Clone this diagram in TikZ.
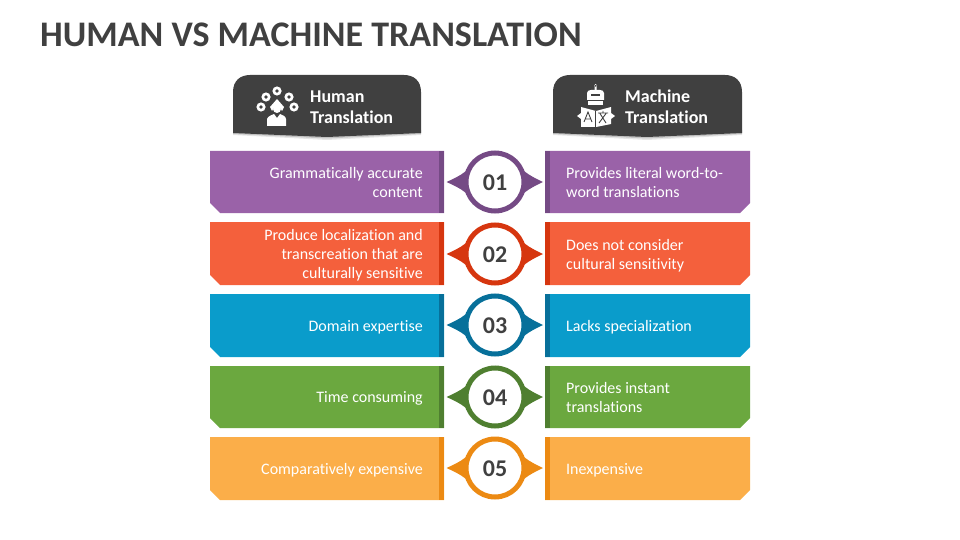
\documentclass[tikz,border=0pt]{standalone}
\usepackage{fontspec}
\setmainfont{Carlito}[Ligatures=NoCommon]
\definecolor{barpurple}{HTML}{9A62A8}
\definecolor{rimpurple}{HTML}{754A85}
\definecolor{barred}{HTML}{F4603C}
\definecolor{rimred}{HTML}{D6360F}
\definecolor{barblue}{HTML}{0A9CCB}
\definecolor{rimblue}{HTML}{07709A}
\definecolor{bargreen}{HTML}{6BA83F}
\definecolor{rimgreen}{HTML}{4F7F30}
\definecolor{baramber}{HTML}{FBAE49}
\definecolor{rimamber}{HTML}{EC8A13}
\definecolor{headdark}{HTML}{404040}
\tikzset{
  lefttext/.style={text=white,font=\fontsize{16}{19}\selectfont,align=right,anchor=east,inner sep=0pt},
  righttext/.style={text=white,font=\fontsize{16}{19}\selectfont,align=left,anchor=west,inner sep=0pt},
  headtext/.style={text=white,font=\bfseries\fontsize{18}{21}\selectfont,align=left,anchor=west,inner sep=0pt},
  numring/.style={circle,draw=#1,fill=white,line width=5pt,minimum size=58pt,inner sep=0pt,
    text=headdark,font=\bfseries\fontsize{24}{28}\selectfont,text height=17pt},
  glyph/.style={headdark,line width=0.9pt}
}
\begin{document}
\begin{tikzpicture}[x=1pt,y=-1pt]
\useasboundingbox (0,0) rectangle (960,540);
\node[anchor=west,inner sep=0pt,text=headdark,font=\bfseries\fontsize{36}{42}\selectfont] (title) at (40,35) {HUMAN VS MACHINE TRANSLATION};
% headers
\fill[gray,opacity=.2] (233,135)--(327,140)--(421,135)--(421,130)--(233,130)--cycle;
\fill[gray,opacity=.35] (233,134)--(327,138.5)--(421,134)--(421,130)--(233,130)--cycle;
\fill[gray,opacity=.2] (553,135)--(647,140)--(742,135)--(742,130)--(553,130)--cycle;
\fill[gray,opacity=.35] (553,134)--(647,138.5)--(742,134)--(742,130)--(553,130)--cycle;
\fill[headdark] (233,133)--(233,92) .. controls (233,81) and (240,75) .. (250,75)--(404,75) .. controls (414,75) and (421,81) .. (421,92)--(421,133)--(327,137)--cycle;
\fill[headdark] (553,133)--(553,92) .. controls (553,81) and (560,75) .. (570,75)--(725,75) .. controls (735,75) and (742,81) .. (742,92)--(742,133)--(647,137)--cycle;
\node[headtext] (human) at (310,107) {Human\\Translation};
\node[headtext] (machine) at (625,107) {Machine\\Translation};
% human icon
\fill[white] (267,126)--(267,119) .. controls (268,116) and (272,115) .. (274,114)--(277,118)--(280,114) .. controls (282,115) and (286,116) .. (286,119)--(286,126)--cycle;
\fill[white] (270,107)--(277,99)--(284,107)--(282,111) .. controls (281,105) and (273,105) .. (272,111)--cycle;
\fill[white] (277,109) circle (4);
\fill[white] (261,107) circle (4.6) (266,97) circle (4.6) (277,91) circle (4.6) (289,97) circle (4.6) (294,107) circle (4.6);
\fill[headdark] (261,107) circle (1.8) (266,97) circle (1.8) (277,91) circle (1.8) (289,97) circle (1.8) (294,107) circle (1.8);
% machine icon
\fill[white] (594.5,85) rectangle (596.5,90) (595.5,85.5) circle (1.5);
\fill[white] (587,96)--(587,93) .. controls (587,91) and (589,90) .. (591,90)--(600,90) .. controls (602,90) and (604,91) .. (604,93)--(604,96)--(604,100)--(587,100)--cycle;
\fill[headdark] (591,94) rectangle (600,96);
\fill[white] (588,101) rectangle (603,105);
\fill[white] (581,107)--(596,111)--(611,107)--(611,113)--(615,116)--(611,119)--(611,124)--(596,127)--(581,127)--(581,119)--(577,116)--(581,113)--cycle;
\draw[headdark,line width=.8pt] (595.5,111)--(595.5,127);
\draw[glyph] (584,122)--(588,112)--(592,122) (585.5,119)--(590.5,119);
\draw[glyph] (598,113)--(608,113) (603,111)--(603,113) (600,113.5)--(606,123) (606,113.5)--(599,123);
% row 1
\fill[barpurple] (210,151)--(444,151)--(444,213)--(220,213)--(210,203)--cycle;
\fill[rimpurple] (439,151) rectangle (444,213);
\fill[barpurple] (545,151)--(750,151)--(750,203)--(740,213)--(545,213)--cycle;
\fill[rimpurple] (545,151) rectangle (550,213);
\fill[rimpurple] (446.5,182) .. controls (453,179) and (460,176) .. (466,171)--(524,171) .. controls (530,176) and (537,179) .. (543,182) .. controls (537,185) and (530,188) .. (524,193)--(466,193) .. controls (460,188) and (453,185) .. (446.5,182)--cycle;
\node[numring=rimpurple] (num1) at (495,182) {01};
\node[lefttext] (hum1) at (423,182.5) {Grammatically accurate\\content};
\node[righttext] (mac1) at (566,182.5) {Provides literal word-to-\\word translations};
% row 2
\fill[barred] (210,222)--(444,222)--(444,285)--(220,285)--(210,275)--cycle;
\fill[rimred] (439,222) rectangle (444,285);
\fill[barred] (545,222)--(750,222)--(750,275)--(740,285)--(545,285)--cycle;
\fill[rimred] (545,222) rectangle (550,285);
\fill[rimred] (446.5,254) .. controls (453,251) and (460,248) .. (466,243)--(524,243) .. controls (530,248) and (537,251) .. (543,254) .. controls (537,257) and (530,260) .. (524,265)--(466,265) .. controls (460,260) and (453,257) .. (446.5,254)--cycle;
\node[numring=rimred] (num2) at (495,254) {02};
\node[lefttext] (hum2) at (423,255.5) {Produce localization and\\transcreation that are\\culturally sensitive};
\node[righttext] (mac2) at (566,255.5) {Does not consider\\cultural sensitivity};
% row 3
\fill[barblue] (210,294)--(444,294)--(444,357)--(220,357)--(210,347)--cycle;
\fill[rimblue] (439,294) rectangle (444,357);
\fill[barblue] (545,294)--(750,294)--(750,347)--(740,357)--(545,357)--cycle;
\fill[rimblue] (545,294) rectangle (550,357);
\fill[rimblue] (446.5,325) .. controls (453,322) and (460,319) .. (466,314)--(524,314) .. controls (530,319) and (537,322) .. (543,325) .. controls (537,328) and (530,331) .. (524,336)--(466,336) .. controls (460,331) and (453,328) .. (446.5,325)--cycle;
\node[numring=rimblue] (num3) at (495,325) {03};
\node[lefttext] (hum3) at (423,327) {Domain expertise};
\node[righttext] (mac3) at (566,327) {Lacks specialization};
% row 4
\fill[bargreen] (210,366)--(444,366)--(444,428)--(220,428)--(210,418)--cycle;
\fill[rimgreen] (439,366) rectangle (444,428);
\fill[bargreen] (545,366)--(750,366)--(750,418)--(740,428)--(545,428)--cycle;
\fill[rimgreen] (545,366) rectangle (550,428);
\fill[rimgreen] (446.5,397) .. controls (453,394) and (460,391) .. (466,386)--(524,386) .. controls (530,391) and (537,394) .. (543,397) .. controls (537,400) and (530,403) .. (524,408)--(466,408) .. controls (460,403) and (453,400) .. (446.5,397)--cycle;
\node[numring=rimgreen] (num4) at (495,397) {04};
\node[lefttext] (hum4) at (423,398.5) {Time consuming};
\node[righttext] (mac4) at (566,397.5) {Provides instant\\translations};
% row 5
\fill[baramber] (210,437)--(444,437)--(444,500)--(220,500)--(210,490)--cycle;
\fill[rimamber] (439,437) rectangle (444,500);
\fill[baramber] (545,437)--(750,437)--(750,490)--(740,500)--(545,500)--cycle;
\fill[rimamber] (545,437) rectangle (550,500);
\fill[rimamber] (446.5,468) .. controls (453,465) and (460,462) .. (466,457)--(524,457) .. controls (530,462) and (537,465) .. (543,468) .. controls (537,471) and (530,474) .. (524,479)--(466,479) .. controls (460,474) and (453,471) .. (446.5,468)--cycle;
\node[numring=rimamber] (num5) at (495,468) {05};
\node[lefttext] (hum5) at (423,470) {Comparatively expensive};
\node[righttext] (mac5) at (566,470) {Inexpensive};
\end{tikzpicture}
\end{document}
